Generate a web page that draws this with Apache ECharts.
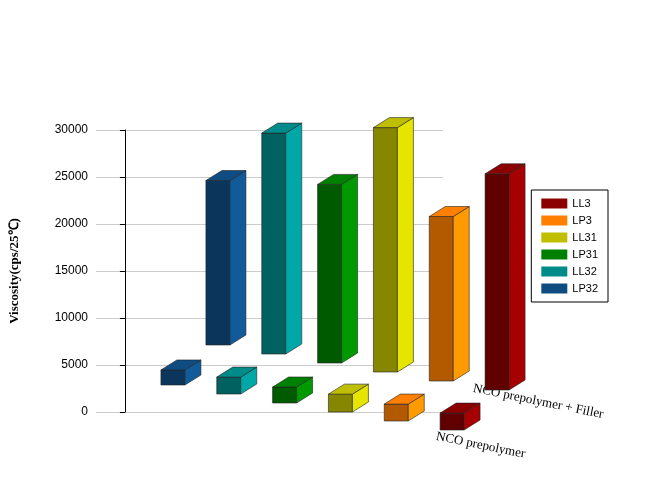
<!DOCTYPE html>
<html><head><meta charset="utf-8">
<script src="https://cdn.jsdelivr.net/npm/echarts@6/dist/echarts.min.js"></script>
<style>html,body{margin:0;background:#fff}#c{width:658px;height:489px}</style>
</head><body><div id="c"></div>
<script>
var categories = ['NCO prepolymer', 'NCO prepolymer + Filler'];
var seriesNames = ['LL3', 'LP3', 'LL31', 'LP31', 'LL32', 'LP32'];
var colors = ['#8B0000', '#FF8000', '#BFBF00', '#008000', '#008B8B', '#0F4C81'];
var LL3 = [1800, 23000];
var LP3 = [1800, 17500];
var LL31 = [1900, 26000];
var LP31 = [1700, 19000];
var LL32 = [1800, 23500];
var LP32 = [1600, 17500];
var values = [LL3, LP3, LL31, LP31, LL32, LP32];
var yTicks = [0, 5000, 10000, 15000, 20000, 25000, 30000];

function shade(hex, f) {
  var n = parseInt(hex.slice(1), 16);
  var r = Math.min(255, Math.round(((n >> 16) & 255) * f));
  var g = Math.min(255, Math.round(((n >> 8) & 255) * f));
  var b = Math.min(255, Math.round((n & 255) * f));
  return 'rgb(' + r + ',' + g + ',' + b + ')';
}

var series = seriesNames.map(function (name, k) {
  var xi = seriesNames.length - 1 - k;
  var col = colors[k];
  return {
    type: 'custom', name: name,
    itemStyle: { color: col },
    data: values[k].map(function (v, c) { return [xi, c, v]; }),
    renderItem: function (params, api) {
      var i = api.value(0), c = api.value(1), v = api.value(2);
      var b = api.coord([i, 0]), t = api.coord([i, v]);
      var ox = 36 + c * 45 - i * 2, oy = -27 - c * 40 + i * 9;
      var w = 24, d = 16, e = 10;
      var x = b[0] + ox, yb = b[1] + oy, yt = t[1] + oy;
      var st = { stroke: '#222', lineWidth: 0.6 };
      return { type: 'group', z2: 10 - c * 5, children: [
        { type: 'polygon', shape: { points: [[x, yt], [x + w, yt], [x + w, yb], [x, yb]] }, style: Object.assign({ fill: shade(col, 0.7) }, st) },
        { type: 'polygon', shape: { points: [[x + w, yt], [x + w + d, yt - e], [x + w + d, yb - e], [x + w, yb]] }, style: Object.assign({ fill: shade(col, 1.2) }, st) },
        { type: 'polygon', shape: { points: [[x, yt], [x + w, yt], [x + w + d, yt - e], [x + d, yt - e]] }, style: Object.assign({ fill: col }, st) }
      ]};
    }
  };
});

var chart = echarts.init(document.getElementById('c'));
chart.setOption({
  animation: false,
  grid: { left: 95, right: 215, top: 130, bottom: 77 },
  xAxis: { type: 'value', min: -0.5, max: 5.5, show: false },
  yAxis: {
    type: 'value', min: yTicks[0], max: yTicks[yTicks.length - 1], interval: 5000,
    name: 'Viscosity(cps/25℃)', nameLocation: 'middle', nameGap: 75, nameRotate: 90,
    nameTextStyle: { fontFamily: 'Liberation Serif', fontWeight: 'bold', fontSize: 13, color: '#000' },
    axisLine: { show: true, lineStyle: { color: '#000' } },
    axisTick: { show: true, lineStyle: { color: '#000' } },
    axisLabel: { color: '#000', fontFamily: 'Liberation Sans', fontSize: 12, formatter: function (v) { return String(v); } },
    splitLine: { lineStyle: { color: '#ccc' } }
  },
  legend: {
    orient: 'vertical', right: 50, top: 190, data: seriesNames,
    itemWidth: 26, itemHeight: 10, itemGap: 6, icon: 'rect',
    borderColor: '#000', borderWidth: 1, padding: [8, 10],
    textStyle: { fontFamily: 'Liberation Sans', fontSize: 11, color: '#000' }
  },
  graphic: [
    { type: 'text', left: 472, top: 382, rotation: -0.2, style: { text: categories[1], font: '13px Liberation Serif', fill: '#000' } },
    { type: 'text', left: 435, top: 430, rotation: -0.2, style: { text: categories[0], font: '13px Liberation Serif', fill: '#000' } }
  ],
  series: series
});
</script></body></html>
